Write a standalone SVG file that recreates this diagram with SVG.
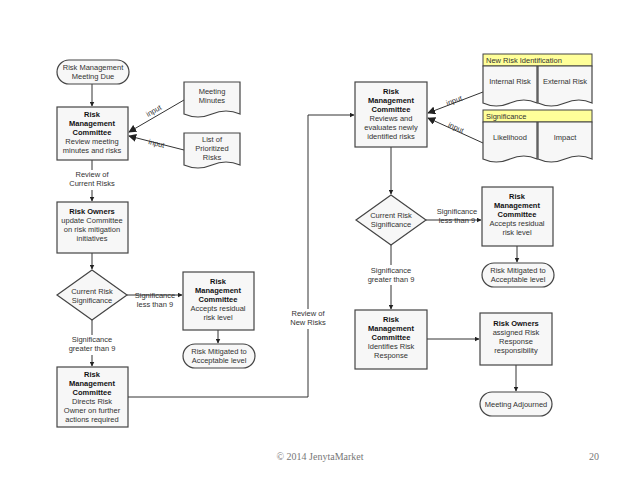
<svg xmlns="http://www.w3.org/2000/svg" width="638" height="478" viewBox="0 0 638 478">
<defs>
<marker id="a" viewBox="0 0 10 10" refX="9" refY="5" markerWidth="5" markerHeight="5" orient="auto"><path d="M0,0L10,5L0,10z" fill="#222"/></marker>
<marker id="b" viewBox="0 0 10 10" refX="9" refY="5" markerWidth="8" markerHeight="8" orient="auto"><path d="M0,0L10,5L0,10z" fill="#222"/></marker>
<style>
.bx{fill:#f7f7f7;stroke:#444;stroke-width:1.2}
.t{font-family:"Liberation Sans",Arial,sans-serif;font-size:7.5px;fill:#333;text-anchor:middle}
.b{font-weight:bold;fill:#111}
.c{stroke:#333;stroke-width:1;fill:none}
.hd{fill:#ffff99;stroke:#444;stroke-width:1}
</style>
</defs>
<rect width="638" height="478" fill="#fff"/>
<g id="connectors">
<path class="c" d="M92,84V106" marker-end="url(#a)"/>
<path class="c" d="M184,100L129,132" marker-end="url(#b)"/>
<path class="c" d="M184,150L129,136" marker-end="url(#b)"/>
<path class="c" d="M92,160V201" marker-end="url(#a)"/>
<path class="c" d="M92,253V269" marker-end="url(#a)"/>
<path class="c" d="M127,295H182" marker-end="url(#a)"/>
<path class="c" d="M218,330V343" marker-end="url(#a)"/>
<path class="c" d="M92,320V366" marker-end="url(#a)"/>
<path class="c" d="M128,397H308V115H354" marker-end="url(#a)"/>
<path class="c" d="M483,92L428,113" marker-end="url(#b)"/>
<path class="c" d="M483,143L428,118" marker-end="url(#b)"/>
<path class="c" d="M391,147V194" marker-end="url(#a)"/>
<path class="c" d="M426,220H481" marker-end="url(#a)"/>
<path class="c" d="M517,246V262" marker-end="url(#a)"/>
<path class="c" d="M391,245V309" marker-end="url(#a)"/>
<path class="c" d="M427,339H479" marker-end="url(#a)"/>
<path class="c" d="M516,365V391" marker-end="url(#a)"/>
<g class="t">
<text x="155" y="113" transform="rotate(-30 155 113)">input</text>
<text x="156" y="146" transform="rotate(14 156 146)">input</text>
<text x="455" y="103" transform="rotate(-20 455 103)">input</text>
<text x="455" y="130" transform="rotate(24 455 130)">input</text>
<rect x="60" y="170" width="64" height="20" fill="#fff"/>
<text x="92" y="177">Review of</text><text x="92" y="186">Current Risks</text>
<text x="155" y="298">Significance</text><text x="155" y="307">less than 9</text>
<rect x="62" y="335" width="60" height="20" fill="#fff"/>
<text x="92" y="342">Significance</text><text x="92" y="351">greater than 9</text>
<rect x="290" y="309" width="36" height="20" fill="#fff"/>
<text x="308" y="316">Review of</text><text x="308" y="325">New Risks</text>
<text x="457" y="214">Significance</text><text x="457" y="223">less than 9</text>
<rect x="361" y="265" width="60" height="20" fill="#fff"/>
<text x="391" y="273">Significance</text><text x="391" y="282">greater than 9</text>
</g>
</g>
<g id="start"><rect class="bx" x="57" y="60" width="72" height="24" rx="12"/><text class="t"><tspan x="93" y="70">Risk Management</tspan><tspan x="93" y="79">Meeting Due</tspan></text></g>
<g id="box1"><rect class="bx" x="57" y="107" width="71" height="53"/><text class="t"><tspan class="b" x="92" y="117">Risk</tspan><tspan class="b" x="92" y="126">Management</tspan><tspan class="b" x="92" y="135">Committee</tspan><tspan x="92" y="144">Review meeting</tspan><tspan x="92" y="153">minutes and risks</tspan></text></g>
<g id="doc1"><path class="bx" d="M184,82H240V114Q226,108 212,114T184,114Z"/><text class="t"><tspan x="212" y="94">Meeting</tspan><tspan x="212" y="103">Minutes</tspan></text></g>
<g id="doc2"><path class="bx" d="M184,133H240V165Q226,159 212,165T184,165Z"/><text class="t"><tspan x="212" y="142">List of</tspan><tspan x="212" y="151">Prioritized</tspan><tspan x="212" y="160">Risks</tspan></text></g>
<g id="box2"><rect class="bx" x="57" y="202" width="71" height="51"/><text class="t"><tspan class="b" x="92" y="214">Risk Owners</tspan><tspan x="92" y="223">update Committee</tspan><tspan x="92" y="232">on risk mitigation</tspan><tspan x="92" y="241">initiatives</tspan></text></g>
<g id="dia1"><path class="bx" d="M92,270L127,295L92,320L57,295Z"/><text class="t"><tspan x="92" y="294">Current Risk</tspan><tspan x="92" y="303">Significance</tspan></text></g>
<g id="box3"><rect class="bx" x="183" y="272" width="71" height="58"/><text class="t"><tspan class="b" x="218" y="284">Risk</tspan><tspan class="b" x="218" y="293">Management</tspan><tspan class="b" x="218" y="302">Committee</tspan><tspan x="218" y="311">Accepts residual</tspan><tspan x="218" y="320">risk level</tspan></text></g>
<g id="end1"><rect class="bx" x="183" y="344" width="72" height="24" rx="12"/><text class="t"><tspan x="219" y="354">Risk Mitigated to</tspan><tspan x="219" y="363">Acceptable level</tspan></text></g>
<g id="box4"><rect class="bx" x="57" y="367" width="71" height="60"/><text class="t"><tspan class="b" x="92" y="377">Risk</tspan><tspan class="b" x="92" y="386">Management</tspan><tspan class="b" x="92" y="395">Committee</tspan><tspan x="92" y="404">Directs Risk</tspan><tspan x="92" y="413">Owner on further</tspan><tspan x="92" y="422">actions required</tspan></text></g>
<g id="box5"><rect class="bx" x="355" y="82" width="72" height="65"/><text class="t"><tspan class="b" x="391" y="94">Risk</tspan><tspan class="b" x="391" y="103">Management</tspan><tspan class="b" x="391" y="112">Committee</tspan><tspan x="391" y="121">Reviews and</tspan><tspan x="391" y="130">evaluates newly</tspan><tspan x="391" y="139">identified risks</tspan></text></g>
<g id="panel1"><rect class="hd" x="483" y="54" width="109" height="12"/><text class="t" x="486" y="63" style="text-anchor:start">New Risk Identification</text>
<path class="bx" d="M483,66H537V103Q524,97 510,103T483,103Z"/><path class="bx" d="M538,66H592V103Q579,97 565,103T538,103Z"/>
<text class="t" x="510" y="84">Internal Risk</text><text class="t" x="565" y="84">External Risk</text></g>
<g id="panel2"><rect class="hd" x="483" y="110" width="109" height="12"/><text class="t" x="486" y="119" style="text-anchor:start">Significance</text>
<path class="bx" d="M483,122H537V159Q524,153 510,159T483,159Z"/><path class="bx" d="M538,122H592V159Q579,153 565,159T538,159Z"/>
<text class="t" x="510" y="140">Likelihood</text><text class="t" x="565" y="140">Impact</text></g>
<g id="dia2"><path class="bx" d="M391,195L426,220L391,245L356,220Z"/><text class="t"><tspan x="391" y="218">Current Risk</tspan><tspan x="391" y="227">Significance</tspan></text></g>
<g id="box6"><rect class="bx" x="482" y="187" width="71" height="59"/><text class="t"><tspan class="b" x="517" y="199">Risk</tspan><tspan class="b" x="517" y="208">Management</tspan><tspan class="b" x="517" y="217">Committee</tspan><tspan x="517" y="226">Accepts residual</tspan><tspan x="517" y="235">risk level</tspan></text></g>
<g id="end2"><rect class="bx" x="482" y="263" width="72" height="24" rx="12"/><text class="t"><tspan x="518" y="273">Risk Mitigated to</tspan><tspan x="518" y="282">Acceptable level</tspan></text></g>
<g id="box7"><rect class="bx" x="355" y="310" width="72" height="59"/><text class="t"><tspan class="b" x="391" y="322">Risk</tspan><tspan class="b" x="391" y="331">Management</tspan><tspan class="b" x="391" y="340">Committee</tspan><tspan x="391" y="349">Identifies Risk</tspan><tspan x="391" y="358">Response</tspan></text></g>
<g id="box8"><rect class="bx" x="480" y="313" width="72" height="52"/><text class="t"><tspan class="b" x="516" y="326">Risk Owners</tspan><tspan x="516" y="335">assigned Risk</tspan><tspan x="516" y="344">Response</tspan><tspan x="516" y="353">responsibility</tspan></text></g>
<g id="end3"><rect class="bx" x="480" y="392" width="72" height="24" rx="12"/><text class="t" x="516" y="407">Meeting Adjourned</text></g>
<text x="320" y="460" style="font-family:'Liberation Serif',serif;font-size:10px;fill:#777;text-anchor:middle">© 2014 JenytaMarket</text>
<text x="594" y="460" style="font-family:'Liberation Serif',serif;font-size:10px;fill:#777;text-anchor:middle">20</text>
</svg>
